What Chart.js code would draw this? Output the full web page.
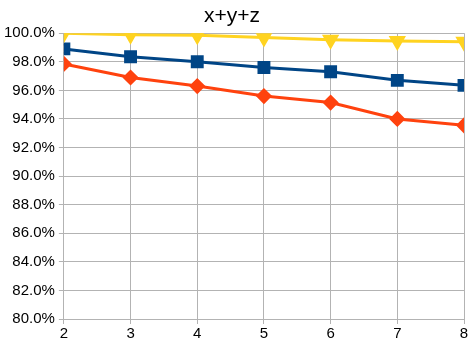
<!DOCTYPE html>
<html>
<head>
<meta charset="utf-8">
<script src="https://cdn.jsdelivr.net/npm/chart.js@4/dist/chart.umd.min.js"></script>
<style>
  html, body { margin: 0; padding: 0; background: #fff; }
  #wrap { position: relative; width: 474px; height: 345px; }
</style>
</head>
<body>
<div id="wrap"><canvas id="chart"></canvas></div>
<script>
const categories = [2, 3, 4, 5, 6, 7, 8];
const yellowSeries = [100.0, 99.9, 99.85, 99.7, 99.55, 99.45, 99.4];
const blueSeries = [98.9, 98.35, 98.0, 97.6, 97.3, 96.7, 96.35];
const redSeries = [97.85, 96.9, 96.3, 95.6, 95.15, 94.0, 93.55];
const yTicks = [80, 82, 84, 86, 88, 90, 92, 94, 96, 98, 100];

const toPoints = vals => vals.map((v, i) => ({ x: categories[i], y: v }));

const ctx = document.getElementById("chart").getContext("2d");
new Chart(ctx, {
  type: "line",
  data: {
    datasets: [
      {
        label: "x+y+z (1)",
        data: toPoints(yellowSeries),
        borderColor: "#ffd320",
        backgroundColor: "#ffd320",
        borderWidth: 3,
        pointStyle: "triangle",
        rotation: 180,
        pointRadius: 7,
        pointHoverRadius: 7,
      },
      {
        label: "x+y+z (2)",
        data: toPoints(blueSeries),
        borderColor: "#004586",
        backgroundColor: "#004586",
        borderWidth: 3,
        pointStyle: "rect",
        pointRadius: 7,
        pointHoverRadius: 7,
      },
      {
        label: "x+y+z (3)",
        data: toPoints(redSeries),
        borderColor: "#ff420e",
        backgroundColor: "#ff420e",
        borderWidth: 3,
        pointStyle: "rectRot",
        pointRadius: 6,
        pointHoverRadius: 6,
      },
    ],
  },
  options: {
    responsive: true,
    maintainAspectRatio: false,
    animation: false,
    layout: { padding: { left: 0, right: 10, top: 2, bottom: 2 } },
    plugins: {
      legend: { display: false },
      tooltip: { enabled: false },
      title: {
        display: true,
        text: "x+y+z",
        color: "#000",
        font: { family: "Liberation Sans", size: 21, weight: "normal" },
        padding: { top: 2, bottom: 4 },
      },
    },
    scales: {
      x: {
        type: "linear",
        min: 2,
        max: 8,
        ticks: {
          stepSize: 1,
          color: "#000",
          font: { family: "Liberation Sans", size: 15, lineHeight: 1 },
          padding: 2,
        },
        grid: {
          color: "#b3b3b3",
          drawOnChartArea: true,
          tickLength: 5,
          lineWidth: 1,
        },
        border: { color: "#b3b3b3" },
      },
      y: {
        min: 80,
        max: 100,
        afterBuildTicks: axis => { axis.ticks = yTicks.map(v => ({ value: v })); },
        ticks: {
          color: "#000",
          font: { family: "Liberation Sans", size: 15 },
          padding: 4,
          callback: v => v.toFixed(1) + "%",
        },
        grid: {
          color: "#b3b3b3",
          tickLength: 5,
          lineWidth: 1,
        },
        border: { color: "#b3b3b3" },
      },
    },
  },
});
</script>
</body>
</html>
